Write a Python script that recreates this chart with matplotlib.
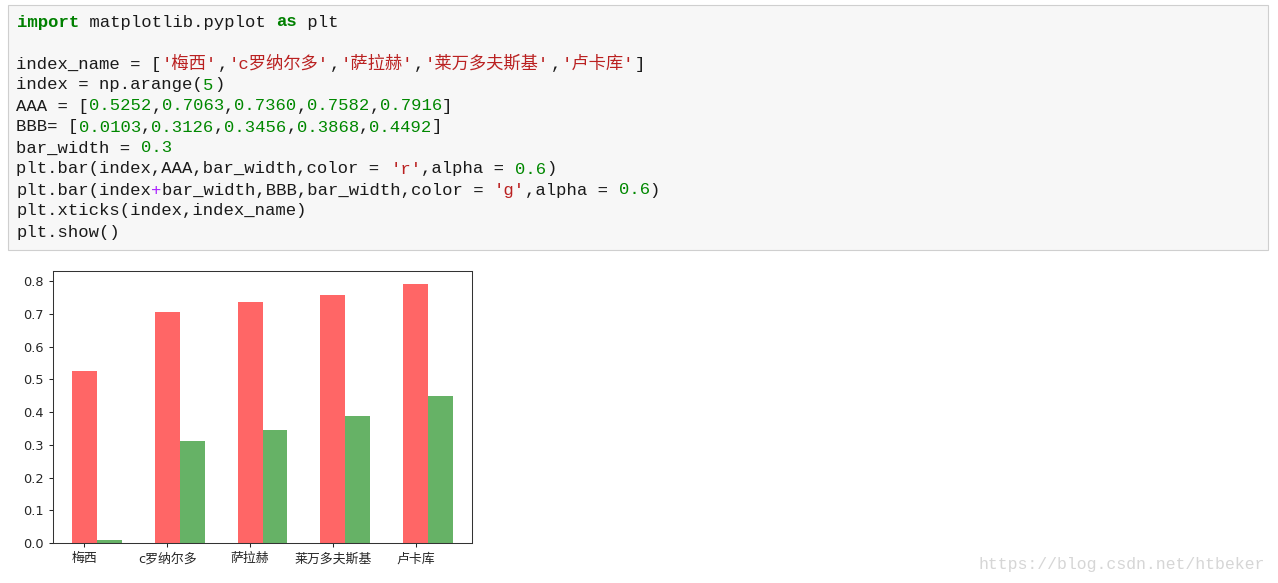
import numpy as np
import matplotlib
matplotlib.use('Agg')
import matplotlib.pyplot as plt
from matplotlib.patches import Rectangle

# data shown in the notebook cell
index_name = ['梅西', 'c罗纳尔多', '萨拉赫', '莱万多夫斯基', '卢卡库']
AAA = [0.5252, 0.7063, 0.7360, 0.7582, 0.7916]
BBB = [0.0103, 0.3126, 0.3456, 0.3868, 0.4492]
bar_width = 0.3
index = np.arange(len(index_name))

W, H = 1278, 583
fig = plt.figure(figsize=(W / 100, H / 100), dpi=100)


def fx(x):
    return x / W


def fy(y):
    return 1 - y / H


# code cell box
fig.add_artist(Rectangle((fx(8), fy(250)), fx(1268) - fx(8), fy(5) - fy(250),
                         transform=fig.transFigure, facecolor='#f7f7f7',
                         edgecolor='#cfcfcf', linewidth=0.8))

# syntax colours
N = '#1a1a1a'
KW = '#008000'
ST = '#ba2121'
NU = '#008800'
OP = '#aa22ff'

def numList(name, vals):
    toks = [(name, N)]
    for i, v in enumerate(vals):
        toks.append(('%.4f' % v, NU))
        toks.append((',' if i < len(vals) - 1 else ']', N))
    return toks

def strList(name, vals):
    toks = [(name, N)]
    for i, v in enumerate(vals):
        toks.append(("'" + v + "'", ST))
        toks.append((',' if i < len(vals) - 1 else ']', N))
    return toks

code = [
    [('import', KW), (' matplotlib.pyplot ', N), ('as', KW), (' plt', N)],
    [],
    strList('index_name = [', index_name),
    [('index = np.arange(', N), (str(len(index_name)), NU), (')', N)],
    numList('AAA = [', AAA),
    numList('BBB= [', BBB),
    [('bar_width = ', N), (str(bar_width), NU)],
    [('plt.bar(index,AAA,bar_width,color = ', N), ("'r'", ST), (',alpha = ', N), ('0.6', NU), (')', N)],
    [('plt.bar(index', N), ('+', OP), ('bar_width,BBB,bar_width,color = ', N), ("'g'", ST),
     (',alpha = ', N), ('0.6', NU), (')', N)],
    [('plt.xticks(index,index_name)', N)],
    [('plt.show()', N)],
]

fsPx = 17.3
fsPt = fsPx * 72 / 100
for i, line in enumerate(code):
    x = 16.5
    y = 26.5 + 21 * i
    for txt, col in line:
        fig.text(fx(x), fy(y), txt, color=col, fontsize=fsPt,
                 family=['Liberation Mono', 'Noto Sans CJK SC'],
                 fontweight='bold' if col == KW else 'normal',
                 va='baseline', ha='left')
        for ch in txt:
            x += 1.02 * fsPx if ord(ch) > 0x2e80 else 0.6 * fsPx

# the chart output
ax = fig.add_axes([fx(53), fy(543), fx(472) - fx(53), fy(271) - fy(543)])
ax.bar(index, AAA, bar_width, color='r', alpha=0.6)
ax.bar(index + bar_width, BBB, bar_width, color='g', alpha=0.6)
ax.set_xticks(index)
ax.set_xticklabels(index_name, family=['DejaVu Sans', 'Noto Sans CJK SC'])
ax.tick_params(labelsize=9.3, length=3.2, width=0.75, colors='#262626')
for s in ax.spines.values():
    s.set_linewidth(0.75)
    s.set_color('#333333')

# watermark
fig.text(fx(978), fy(568.5), 'https://blog.csdn.net/htbeker', color='#d6d6d6',
         fontsize=11.9, family='Liberation Mono', va='baseline', ha='left')

fig.savefig('out.png', dpi=100)
